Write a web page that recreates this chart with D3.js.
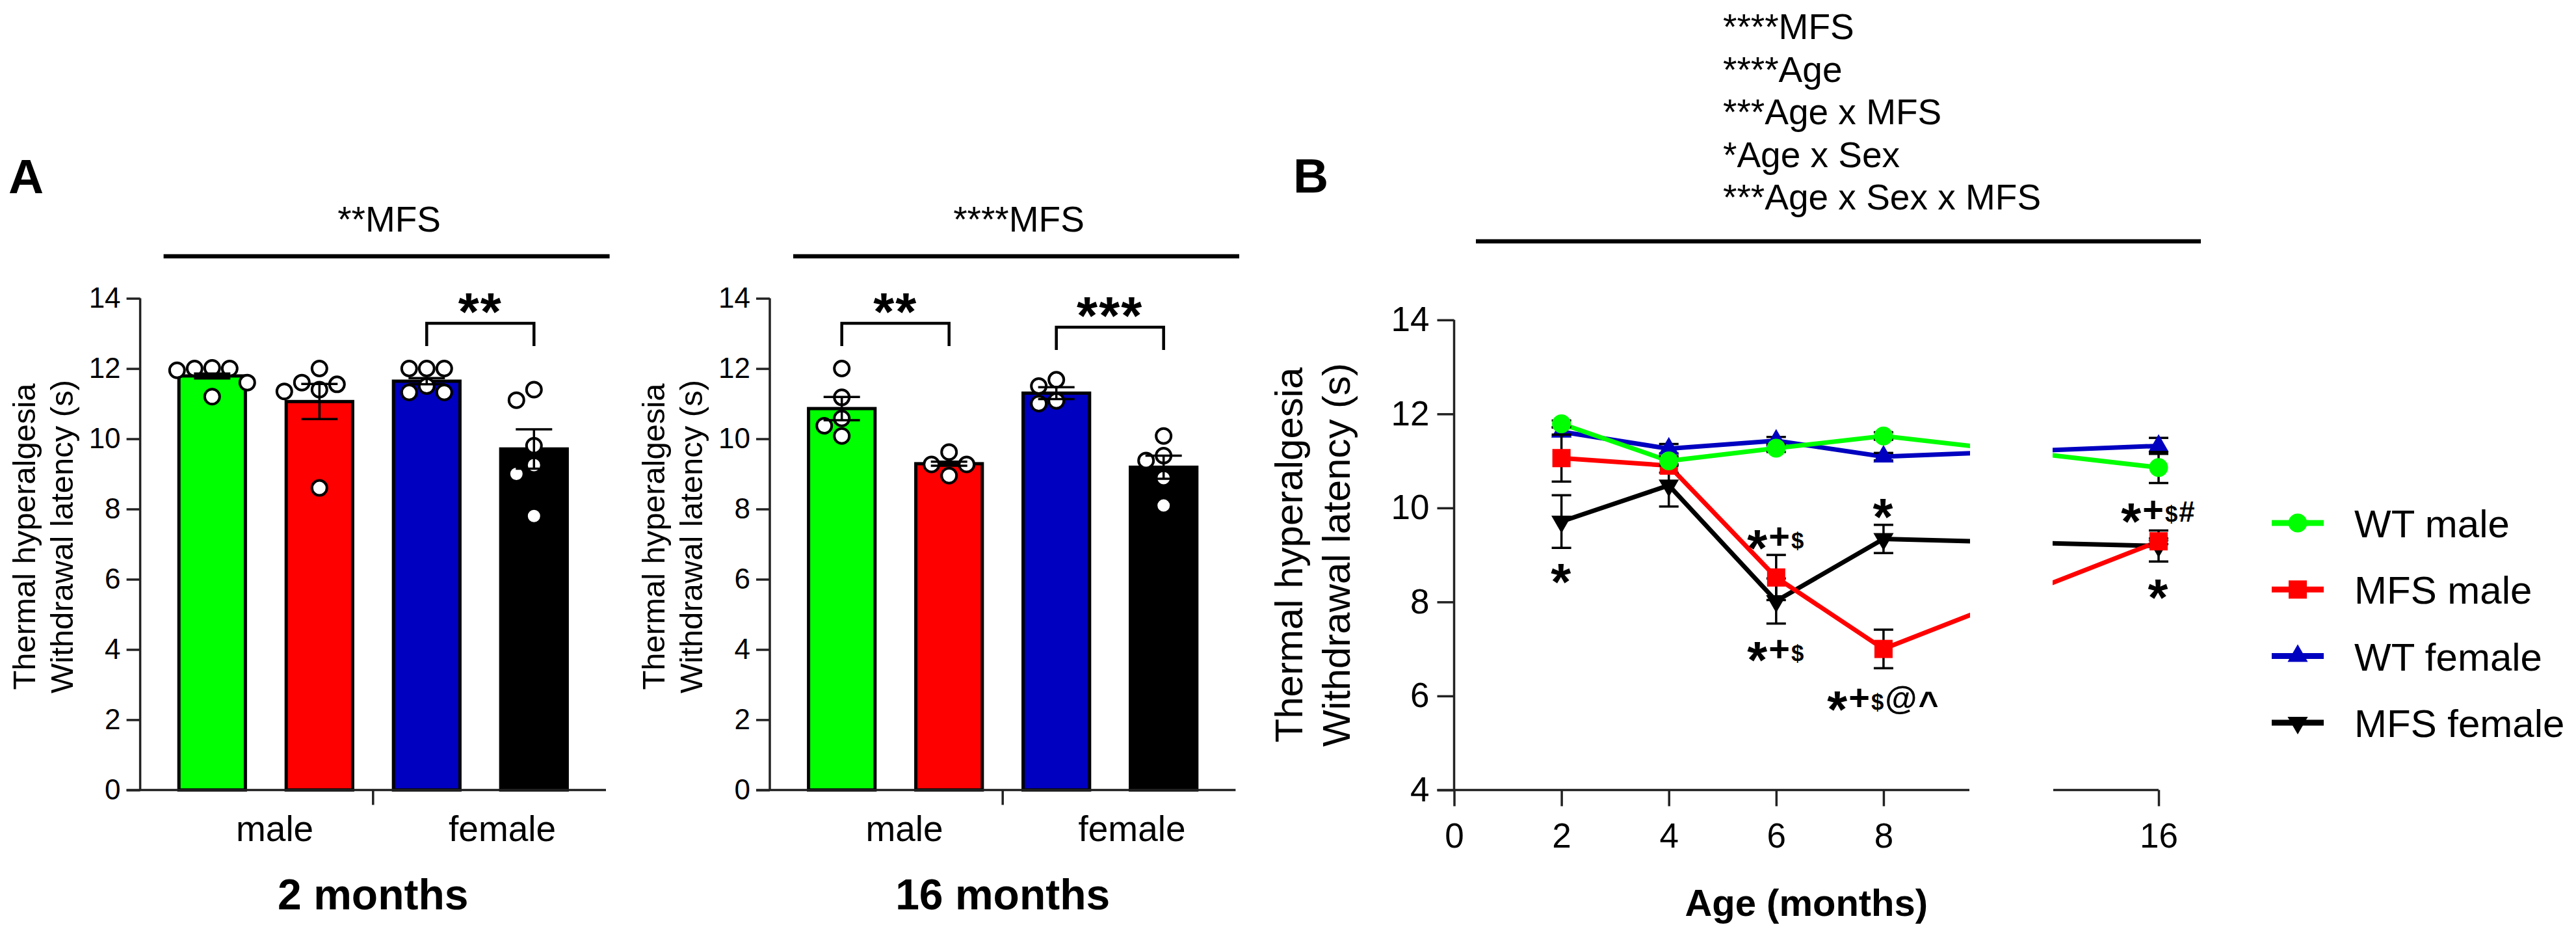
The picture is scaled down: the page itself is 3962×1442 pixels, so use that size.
<!DOCTYPE html>
<html lang="en">
<head>
<meta charset="UTF-8" />
<title>Thermal hyperalgesia – WT vs MFS</title>
<script src="https://cdn.jsdelivr.net/npm/d3@7/dist/d3.min.js"></script>
<style>
  html, body { margin: 0; padding: 0; background: #fff; }
  svg { display: block; font-family: "Liberation Sans", Arial, sans-serif; }
</style>
</head>
<body>
<div id="chart"></div>
<script>
// ---------- data ----------
const groups = ["WT male", "MFS male", "WT female", "MFS female"];
const sexes = ["male", "female"];
const periods = ["2 months", "16 months"];
const yTitle = ["Thermal hyperalgesia", "Withdrawal latency (s)"];

// panel A, 2 months
const mean2 = [11.79, 11.06, 11.64, 9.71];
const sem2 = [0.07, 0.50, 0.09, 0.56];
const pts2 = [
  [12.0, 12.02, 11.95, 12.0, 11.6, 11.2],
  [12.0, 11.6, 11.55, 11.35, 11.4, 8.6],
  [12.0, 12.0, 12.0, 11.5, 11.32, 11.32],
  [11.4, 11.1, 9.8, 9.25, 9.0, 7.8]
];
// panel A, 16 months
const mean16 = [10.86, 9.29, 11.30, 9.19];
const sem16 = [0.33, 0.06, 0.17, 0.33];
const pts16 = [
  [12.0, 11.18, 10.58, 10.37, 10.08],
  [9.62, 9.27, 9.27, 8.95],
  [11.5, 11.68, 11.08, 11.0],
  [10.08, 9.52, 9.38, 8.88, 8.1]
];
const anovaA = ["**MFS", "****MFS"];
// brackets: [from group, to group, label]
const brackets2 = [[2, 3, "**"]];
const brackets16 = [[0, 1, "**"], [2, 3, "***"]];

// panel B, time course
const ages = [2, 4, 6, 8, 16];
const wtMaleMean = [11.79, 11.0, 11.27, 11.53, 10.86];
const wtMaleSem = [0.07, 0.1, 0.08, 0.08, 0.33];
const mfsMaleMean = [11.06, 10.9, 8.52, 7.0, 9.29];
const mfsMaleSem = [0.5, 0.15, 0.48, 0.41, 0.06];
const wtFemaleMean = [11.62, 11.26, 11.43, 11.09, 11.32];
const wtFemaleSem = [0.09, 0.1, 0.08, 0.08, 0.17];
const mfsFemaleMean = [9.71, 10.48, 8.02, 9.34, 9.19];
const mfsFemaleSem = [0.56, 0.45, 0.48, 0.3, 0.33];
const anovaB = ["****MFS", "****Age", "***Age x MFS", "*Age x Sex", "***Age x Sex x MFS"];
// post-hoc marks: age, level (s), text
const sigAge = [2, 6, 6, 8, 8, 16, 16];
const sigLevel = [8.66, 9.39, 7.0, 10.05, 5.96, 9.96, 8.33];
const sigText = ["*", "*+$", "*+$", "*", "*+$@^", "*+$#", "*"];

// ---------- style ----------
const colors = ["#00ff00", "#ff0000", "#0000c0", "#000000"];
const shapes = ["circle", "square", "up", "down"];
const FONT = '"Liberation Sans", Arial, sans-serif';
const AX = "#222";

const W = 3962, H = 1442;
const svg = d3.select("#chart").append("svg")
  .attr("width", W).attr("height", H)
  .attr("font-family", FONT);
svg.append("rect").attr("width", W).attr("height", H).attr("fill", "#fff");

// panel letters
svg.append("text").attr("x", 13).attr("y", 297).attr("font-size", 75)
  .attr("font-weight", "bold").text("A");
svg.append("text").attr("x", 1989).attr("y", 296).attr("font-size", 75)
  .attr("font-weight", "bold").text("B");

// post-hoc marks: asterisks bigger, $ smaller, all centred on one line
const glyph = { "*": [1.42, 0.47], "+": [1, 0], "$": [0.62, 0], "@": [0.9, 0], "^": [0.95, 0.17], "#": [0.78, 0] };
function sigMark(g, str, x, yc, base) {
  const t = g.append("text").attr("x", x).attr("y", yc + 0.33 * base)
    .attr("text-anchor", "middle").attr("font-weight", "bold")
    .attr("font-size", base).attr("letter-spacing", 2);
  let cur = 0;
  for (const ch of str) {
    const [s, sh] = glyph[ch] || [1, 0];
    t.append("tspan").attr("font-size", base * s).attr("dy", (sh - cur) * base).text(ch);
    cur = sh;
  }
}

function styleAxis(ax, size) {
  ax.attr("font-family", FONT).attr("font-size", null);
  ax.select(".domain").remove();
  ax.selectAll(".tick line").attr("stroke", AX).attr("stroke-width", 3.5);
  ax.selectAll(".tick text").attr("font-size", size).attr("fill", "#000");
}

// ---------- panel A ----------
const yA = d3.scaleLinear().domain([0, 14]).range([1214.4, 458.6]);

function dodge(vals, cx, r) {
  const placed = [];
  const sorted = vals.slice().sort((a, b) => b - a);
  const step = 2 * r + 4;
  for (const v of sorted) {
    const py = yA(v);
    let off = 0;
    for (let n = 0; n < 20; n++) {
      off = n === 0 ? 0 : (n % 2 ? -1 : 1) * Math.ceil(n / 2) * step;
      if (placed.every(q => Math.hypot(q.x - (cx + off), q.y - py) >= 2 * r + 3)) break;
    }
    placed.push({ x: cx + off, y: py });
  }
  return placed;
}

function barPanel(axisX, means, sems, pts, brackets, anova, period) {
  const g = svg.append("g");
  const x = d3.scaleBand().domain(groups).range([axisX, axisX + 716.4])
    .paddingInner(0.35).paddingOuter(0.346);
  const bw = x.bandwidth();
  const cx = i => x(groups[i]) + bw / 2;

  // two-way ANOVA bar
  g.append("line").attr("x1", axisX + 36).attr("x2", axisX + 722)
    .attr("y1", 394).attr("y2", 394).attr("stroke", "#000").attr("stroke-width", 6.5);
  g.append("text").attr("x", axisX + 383).attr("y", 356).attr("text-anchor", "middle")
    .attr("font-size", 55).text(anova);

  // bars
  g.selectAll("rect.bar").data(groups).join("rect").attr("class", "bar")
    .attr("x", d => x(d) + 2.5).attr("width", bw - 5)
    .attr("y", (d, i) => yA(means[i])).attr("height", (d, i) => yA(0) - yA(means[i]))
    .attr("fill", (d, i) => colors[i]).attr("stroke", "#000").attr("stroke-width", 5);

  // individual animals
  groups.forEach((gname, i) => {
    g.selectAll(null).data(dodge(pts[i], cx(i), 11.5)).join("circle")
      .attr("cx", d => d.x).attr("cy", d => d.y).attr("r", 11.5)
      .attr("fill", "#fff").attr("stroke", "#000").attr("stroke-width", 4);
  });

  // SEM
  groups.forEach((gname, i) => {
    const lo = yA(means[i] - sems[i]), hi = yA(means[i] + sems[i]);
    const e = g.append("g").attr("stroke", "#000").attr("stroke-width", 3.5);
    e.append("line").attr("x1", cx(i)).attr("x2", cx(i)).attr("y1", lo).attr("y2", hi);
    e.append("line").attr("x1", cx(i) - 28).attr("x2", cx(i) + 28).attr("y1", hi).attr("y2", hi);
    e.append("line").attr("x1", cx(i) - 28).attr("x2", cx(i) + 28).attr("y1", lo).attr("y2", lo);
  });

  // comparison brackets
  brackets.forEach(([a, b, lab], k) => {
    const top = yA(13.29) + k * 6, leg = yA(12.64) + k * 6;
    g.append("path").attr("d", `M${cx(a)},${leg}V${top}H${cx(b)}V${leg}`)
      .attr("fill", "none").attr("stroke", "#000").attr("stroke-width", 4.5);
    sigMark(g, lab, (cx(a) + cx(b)) / 2, top - 36, 58);
  });

  // axes
  const ax = g.append("g").attr("transform", `translate(${axisX},0)`)
    .call(d3.axisLeft(yA).tickValues(d3.range(0, 15, 2)).tickSize(21).tickPadding(9));
  styleAxis(ax, 44);
  g.append("line").attr("x1", axisX).attr("x2", axisX).attr("y1", yA(0)).attr("y2", yA(14))
    .attr("stroke", AX).attr("stroke-width", 3.5);
  g.append("line").attr("x1", axisX - 21).attr("x2", axisX + 716.4).attr("y1", yA(0)).attr("y2", yA(0))
    .attr("stroke", AX).attr("stroke-width", 3.5);
  const sep = (x(groups[1]) + bw + x(groups[2])) / 2;
  g.append("line").attr("x1", sep).attr("x2", sep).attr("y1", yA(0)).attr("y2", yA(0) + 23)
    .attr("stroke", AX).attr("stroke-width", 3.5);

  // group and period labels
  g.selectAll("text.sex").data(sexes).join("text").attr("class", "sex")
    .attr("x", (d, i) => axisX + [207, 557][i]).attr("y", 1293)
    .attr("text-anchor", "middle").attr("font-size", 55).text(d => d);
  g.append("text").attr("x", sep).attr("y", 1398).attr("text-anchor", "middle")
    .attr("font-size", 66).attr("font-weight", "bold").text(period);

  // y title
  yTitle.forEach((t, i) => {
    g.append("text").attr("transform", `translate(${axisX - 161.6 + i * 58},825) rotate(-90)`)
      .attr("text-anchor", "middle").attr("font-size", 49).text(t);
  });
}

barPanel(215.6, mean2, sem2, pts2, brackets2, anovaA[0], periods[0]);
barPanel(1184, mean16, sem16, pts16, brackets16, anovaA[1], periods[1]);

// ---------- panel B ----------
const yB = d3.scaleLinear().domain([4, 14]).range([1214.4, 491.8]);
// broken x axis: 0–9.6 then 14–16
const xB = d3.scaleLinear().domain([0, 9.6, 14, 16]).range([2236.5, 3029, 3158, 3320]);

const series = [
  { name: groups[0], mean: wtMaleMean, sem: wtMaleSem },
  { name: groups[1], mean: mfsMaleMean, sem: mfsMaleSem },
  { name: groups[2], mean: wtFemaleMean, sem: wtFemaleSem },
  { name: groups[3], mean: mfsFemaleMean, sem: mfsFemaleSem }
];

function marker(g, shape, color, x, y) {
  if (shape === "circle") {
    g.append("circle").attr("cx", x).attr("cy", y).attr("r", 14.5).attr("fill", color);
  } else if (shape === "square") {
    g.append("rect").attr("x", x - 14).attr("y", y - 14).attr("width", 28).attr("height", 28).attr("fill", color);
  } else {
    g.append("path").attr("d", d3.symbol().type(d3.symbolTriangle).size(420)())
      .attr("transform", `translate(${x},${y}) rotate(${shape === "down" ? 180 : 0})`)
      .attr("fill", color);
  }
}

const gB = svg.append("g");
const line = d3.line().x(d => xB(d.age)).y(d => yB(d.v));
// bottom to top: MFS female, WT female, MFS male, WT male
[3, 2, 1, 0].forEach(si => {
  const s = series[si];
  const pts = ages.map((a, i) => ({ age: a, v: s.mean[i], e: s.sem[i] }));
  gB.append("path").datum(pts).attr("d", line).attr("fill", "none")
    .attr("stroke", colors[si]).attr("stroke-width", 7);
  pts.forEach(p => {
    const px = xB(p.age), lo = yB(p.v - p.e), hi = yB(p.v + p.e);
    const e = gB.append("g").attr("stroke", "#000").attr("stroke-width", 3.5);
    e.append("line").attr("x1", px).attr("x2", px).attr("y1", lo).attr("y2", hi);
    e.append("line").attr("x1", px - 15).attr("x2", px + 15).attr("y1", hi).attr("y2", hi);
    e.append("line").attr("x1", px - 15).attr("x2", px + 15).attr("y1", lo).attr("y2", lo);
  });
  pts.forEach(p => marker(gB, shapes[si], colors[si], xB(p.age), yB(p.v)));
});
// axis break gap
gB.append("rect").attr("x", xB(9.6) + 1).attr("width", xB(14) - xB(9.6) - 2)
  .attr("y", 430).attr("height", yB(4) - 440).attr("fill", "#fff");

// post-hoc marks
sigAge.forEach((a, i) => sigMark(gB, sigText[i], xB(a), yB(sigLevel[i]), 56));

// axes
const ayB = gB.append("g").attr("transform", `translate(${xB(0)},0)`)
  .call(d3.axisLeft(yB).tickValues(d3.range(4, 15, 2)).tickSize(26).tickPadding(12));
styleAxis(ayB, 53);
gB.append("line").attr("x1", xB(0)).attr("x2", xB(0)).attr("y1", yB(4)).attr("y2", yB(14))
  .attr("stroke", AX).attr("stroke-width", 3.5);
const axB = gB.append("g").attr("transform", `translate(0,${yB(4)})`)
  .call(d3.axisBottom(xB).tickValues([0, 2, 4, 6, 8, 16]).tickSize(25).tickPadding(26));
styleAxis(axB, 53);
[[xB(0) - 26, xB(9.6)], [xB(14), xB(16)]].forEach(([a, b]) => {
  gB.append("line").attr("x1", a).attr("x2", b).attr("y1", yB(4)).attr("y2", yB(4))
    .attr("stroke", AX).attr("stroke-width", 3.5);
});
gB.append("text").attr("x", (xB(0) + xB(16)) / 2).attr("y", 1408).attr("text-anchor", "middle")
  .attr("font-size", 58).attr("font-weight", "bold").text("Age (months)");
yTitle.forEach((t, i) => {
  gB.append("text").attr("transform", `translate(${2003 + i * 73},853) rotate(-90)`)
    .attr("text-anchor", "middle").attr("font-size", 60).text(t);
});

// three-way ANOVA summary
gB.append("line").attr("x1", 2270).attr("x2", 3385).attr("y1", 371).attr("y2", 371)
  .attr("stroke", "#000").attr("stroke-width", 6.5);
gB.selectAll("text.anova").data(anovaB).join("text").attr("class", "anova")
  .attr("x", 2650).attr("y", (d, i) => 60 + i * 65.5).attr("font-size", 55).text(d => d);

// legend
const lg = svg.append("g");
series.forEach((s, i) => {
  const ry = 804 + i * 102.3;
  lg.append("line").attr("x1", 3494).attr("x2", 3574).attr("y1", ry).attr("y2", ry)
    .attr("stroke", colors[i]).attr("stroke-width", 9);
  marker(lg, shapes[i], colors[i], 3534, ry);
  lg.append("text").attr("x", 3621).attr("y", ry + 22).attr("font-size", 60).text(s.name);
});
</script>
</body>
</html>
